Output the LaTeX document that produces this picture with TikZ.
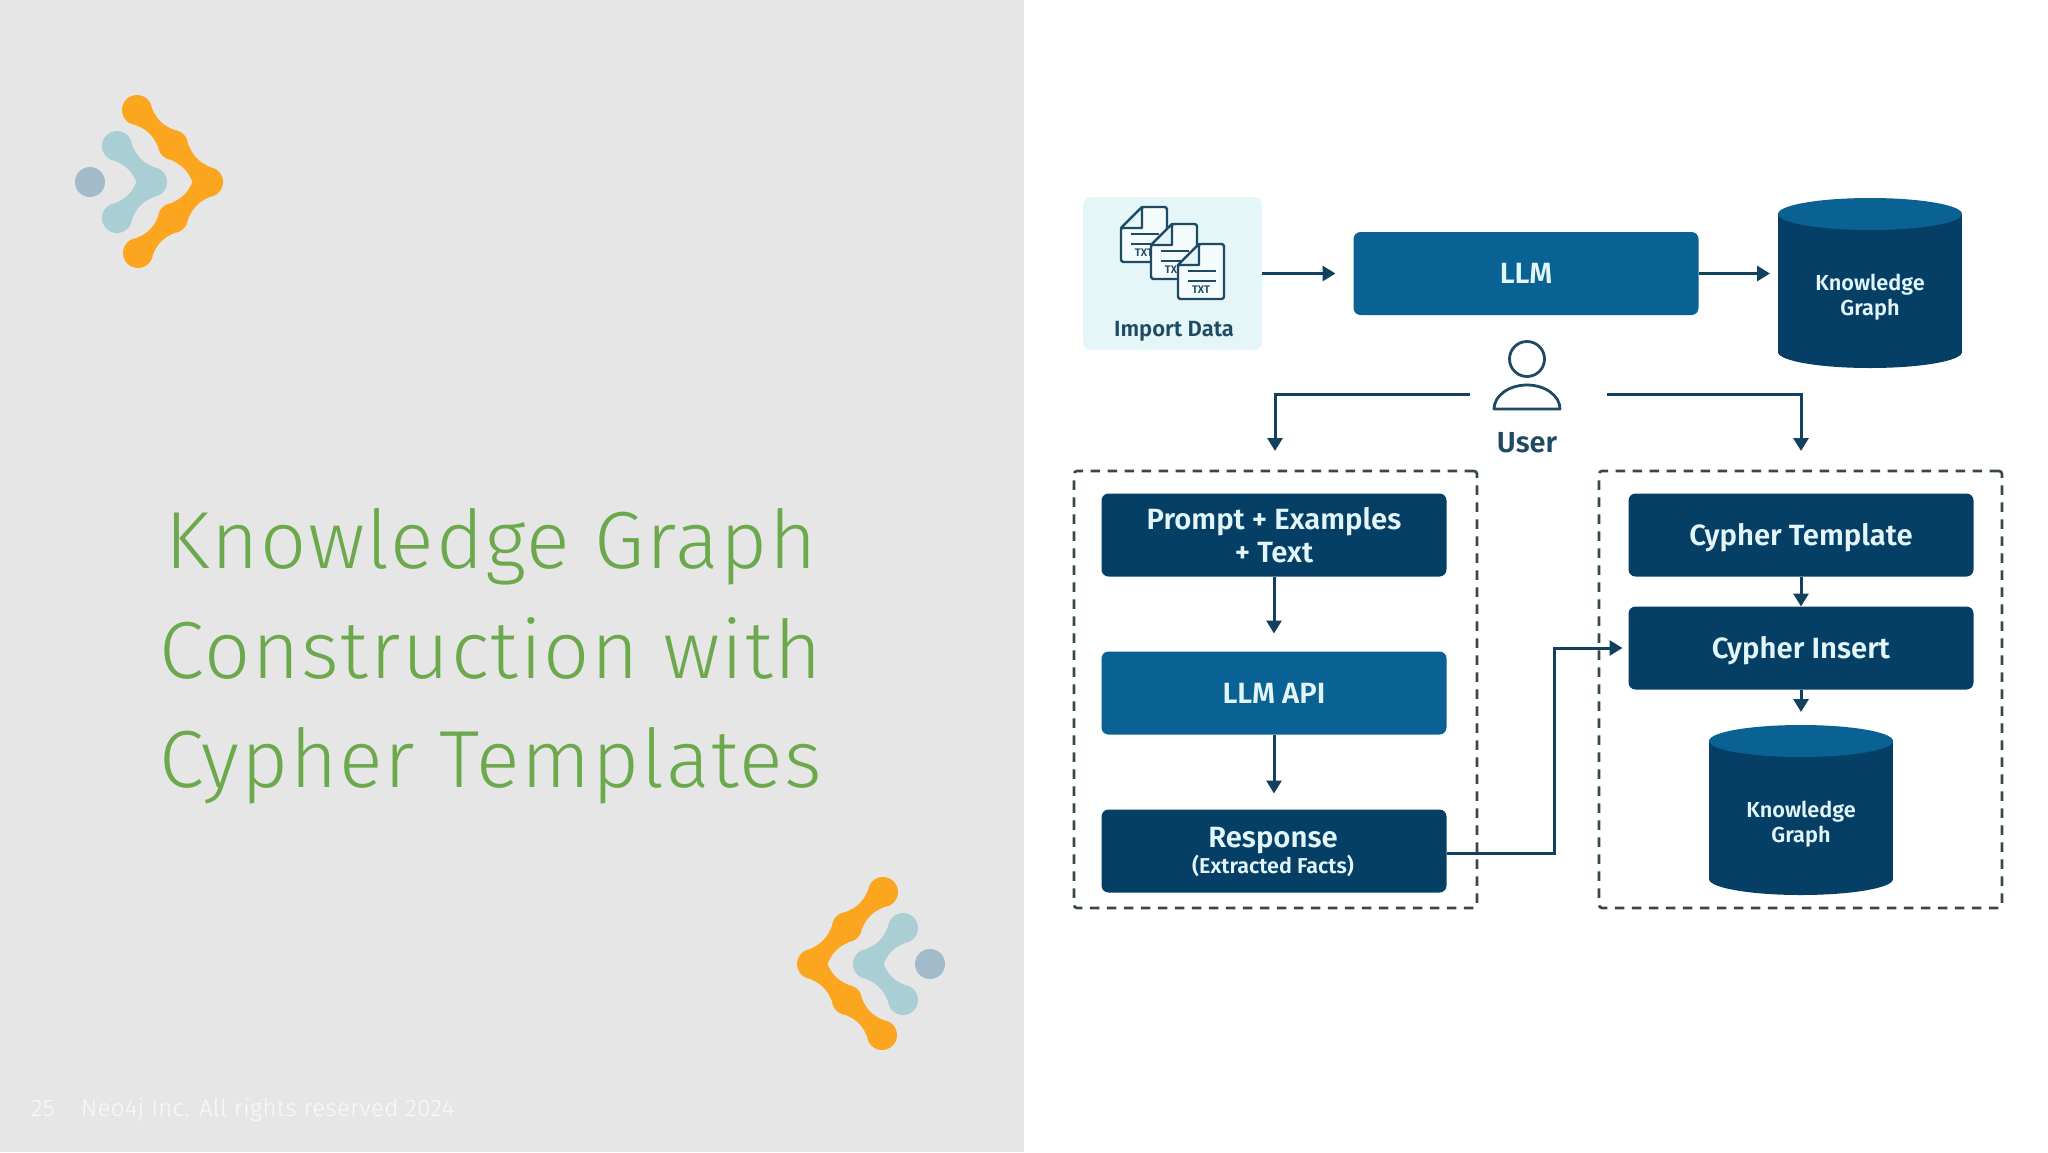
\documentclass[tikz,border=0pt]{standalone}
\usepackage{fontspec}
\usetikzlibrary{arrows.meta,calc}
\setmainfont{Fira Sans}
\newfontfamily\titlefont[LetterSpace=2.2]{Fira Sans Light}
\newfontfamily\footfont[LetterSpace=1.5]{Fira Sans Light}
\newfontfamily\boxfont{Fira Sans SemiBold}
\definecolor{panel}{HTML}{E6E6E6}
\definecolor{titlegreen}{HTML}{6CA84C}
\definecolor{footgrey}{HTML}{FAFAFA}
\definecolor{lorange}{HTML}{FBA61E}
\definecolor{lteal}{HTML}{A9CFD4}
\definecolor{lslate}{HTML}{A3BACB}
\definecolor{navy}{HTML}{063F66}
\definecolor{midblue}{HTML}{0A6194}
\definecolor{paleblue}{HTML}{E4F6F8}
\definecolor{linecol}{HTML}{12405F}
\definecolor{dashcol}{HTML}{37474F}
\definecolor{textpale}{HTML}{E2F5F9}
\definecolor{inkcol}{HTML}{1F4A63}
\tikzset{
  x=1pt,y=-1pt,
  flowbox/.style={rectangle,rounded corners=7pt,minimum width=345pt,minimum height=83pt,inner sep=0pt,outer sep=0pt,text=textpale,align=center,font=\boxfont\fontsize{29.3}{33}\selectfont},
  oneline/.style={text height=20pt,text depth=0pt},
  darkbox/.style={flowbox,fill=navy},
  midbox/.style={flowbox,fill=midblue},
  dbshell/.style={rectangle,minimum width=184pt,minimum height=170pt,inner sep=0pt,outer sep=0pt},
  dbtext/.style={text=textpale,align=center,font=\boxfont\fontsize{21.7}{25}\selectfont,inner sep=0pt},
  groupbox/.style={rectangle,draw=dashcol,line width=2.6pt,dash pattern=on 9.5pt off 7.5pt,rounded corners=3pt,minimum width=403pt,minimum height=437pt,inner sep=0pt,outer sep=0pt},
  conn/.style={draw=linecol,line width=3pt,-{Triangle[length=13pt,width=15pt]}},
  titletext/.style={text=titlegreen,font=\titlefont\fontsize{81}{81}\selectfont,anchor=base,inner sep=0pt},
  foottext/.style={text=footgrey,font=\footfont\fontsize{24}{24}\selectfont,anchor=base west,inner sep=0pt},
  docline/.style={draw=inkcol,line width=2.4pt,line join=round},
  inktext/.style={text=inkcol,font=\boxfont,inner sep=0pt},
}
\newcommand{\docicon}[2]{%
  \begin{scope}[shift={(#1,#2)}]
    \filldraw[docline,fill=paleblue!45!white,rounded corners=2.5pt] (0,21) -- (21,0) -- (46,0) -- (46,55) -- (0,55) -- cycle;
    \filldraw[docline,fill=paleblue] (0,21) -- (21,21) -- (21,0) -- cycle;
    \draw[docline] (10,27) -- (38,27) (10,37) -- (38,37);
    \node[text=inkcol,font=\boxfont\fontsize{11}{11}\selectfont,inner sep=0pt] (doc#1) at (23,46) {TXT};
  \end{scope}}
\newcommand{\neck}[3]{%
  \fill[#1] ($(#2)!0.2!(#3)!11.5pt!90:(#3)$) .. controls ($(#2)!0.42!(#3)!7pt!90:(#3)$) and ($(#2)!0.58!(#3)!7pt!90:(#3)$) .. ($(#2)!0.8!(#3)!11.5pt!90:(#3)$)
   -- ($(#2)!0.8!(#3)!-11.5pt!90:(#3)$) .. controls ($(#2)!0.58!(#3)!-7pt!90:(#3)$) and ($(#2)!0.42!(#3)!-7pt!90:(#3)$) .. ($(#2)!0.2!(#3)!-11.5pt!90:(#3)$) -- cycle;}
\newcommand{\logomark}[3]{%
  \begin{scope}[shift={(#1,#2)},xscale=#3]
    \coordinate (oa) at (-15,-72); \coordinate (ob) at (21,-37); \coordinate (oc) at (56,0);
    \coordinate (od) at (21,36); \coordinate (oe) at (-14,71);
    \coordinate (ta) at (-35,-36); \coordinate (tb) at (0,0); \coordinate (tc) at (-35,36);
    \neck{lorange}{oa}{ob} \neck{lorange}{ob}{oc} \neck{lorange}{oc}{od} \neck{lorange}{od}{oe}
    \fill[lorange] (-15,-72) circle (15) (21,-37) circle (15) (56,0) circle (15) (21,36) circle (15) (-14,71) circle (15);
    \neck{lteal}{ta}{tb} \neck{lteal}{tc}{tb}
    \fill[lteal] (-35,-36) circle (15) (0,0) circle (15) (-35,36) circle (15);
    \fill[lslate] (-62,0) circle (15);
  \end{scope}}
\newcommand{\dbdrum}[3]{%
  \fill[navy] (#1-92,#2+16) rectangle (#1+92,#3-16);
  \fill[navy] (#1,#3-16) ellipse [x radius=92pt,y radius=16pt];
  \fill[midblue] (#1,#2+16) ellipse [x radius=92pt,y radius=16pt];}
\begin{document}
\begin{tikzpicture}
\useasboundingbox (0,0) rectangle (2048,1152);
\fill[white] (0,0) rectangle (2048,1152);
\fill[panel] (0,0) rectangle (1024,1152);
% logos
\logomark{152}{182}{1}
\logomark{868}{964}{-1}
% title
\node[titletext] (t1) at (491,568) {Knowledge Graph};
\node[titletext] (t2) at (491,678) {Construction with};
\node[titletext] (t3) at (491,787) {Cypher Templates};
\node[foottext] (f1) at (31,1116) {25};
\node[foottext] (f2) at (81,1116) {Neo4j Inc. All rights reserved 2024};
% import box
\node[rectangle,rounded corners=8pt,fill=paleblue,minimum width=179pt,minimum height=153pt,inner sep=0pt,outer sep=0pt] (imp) at (1172.5,273.5) {};
\docicon{1121}{207}
\docicon{1151}{224}
\docicon{1178}{244}
\node[inktext,font=\boxfont\fontsize{22}{22}\selectfont] (implab) at (1174,331) {Import Data};
% top row
\node[midbox,oneline] (llm) at (1526,273.5) {LLM};
\dbdrum{1870}{198}{368}
\node[dbshell] (kg1) at (1870,283) {};
\node[dbtext] (kg1t) at (1870,297.5) {Knowledge\\[0pt]Graph};
% user
\draw[line width=2.8pt,draw=inkcol] (1527,359) circle (17.5);
\filldraw[line width=2.8pt,draw=inkcol,fill=white,line join=round] (1494,409) arc[start angle=180,end angle=360,x radius=33,y radius=24] -- cycle;
\node[inktext,font=\boxfont\fontsize{29}{29}\selectfont] (user) at (1527,443) {User};
\coordinate (uL) at (1470,394);
\coordinate (uR) at (1607,394);
% groups
\node[groupbox] (gL) at (1275.5,689.5) {};
\node[groupbox] (gR) at (1800.5,689.5) {};
% left boxes
\node[darkbox] (prompt) at (1274,535) {Prompt + Examples\\+ Text};
\node[midbox,oneline] (api) at (1274,693) {LLM API};
\node[darkbox] (resp) at (1274,851) {};
\node[text=textpale,align=center,inner sep=0pt,font=\boxfont\fontsize{29.3}{24}\selectfont] (respt) at (1273,852) {Response\\{\fontsize{21.5}{24}\selectfont (Extracted Facts)}};
% right boxes
\node[darkbox,oneline] (tmpl) at (1801,535) {Cypher Template};
\node[darkbox,oneline] (ins) at (1801,648) {Cypher Insert};
\dbdrum{1801}{725}{895}
\node[dbshell] (kg2) at (1801,810) {};
\node[dbtext] (kg2t) at (1801,824.5) {Knowledge\\[0pt]Graph};
% connectors
\draw[conn,shorten >=18pt] (imp.east) -- (llm.west);
\draw[conn] (llm.east) -- ([xshift=-8pt]llm.east -| kg1.west);
\coordinate (dL) at (1275,451);
\coordinate (dR) at (1801,451);
\draw[conn] (uL) -| (dL);
\draw[conn] (uR) -| (dR);
\draw[conn,shorten >=18pt] (prompt.south) -- (api.north);
\draw[conn,shorten >=16pt] (api.south) -- (resp.north);
\draw[conn] (tmpl.south) -- (ins.north);
\draw[conn,shorten >=13pt] (ins.south) -- (kg2.north);
\coordinate (elbow) at (1554,853);
\draw[conn,shorten >=6pt] (resp.east |- elbow) -- (elbow) |- (ins.west);
\end{tikzpicture}
\end{document}
